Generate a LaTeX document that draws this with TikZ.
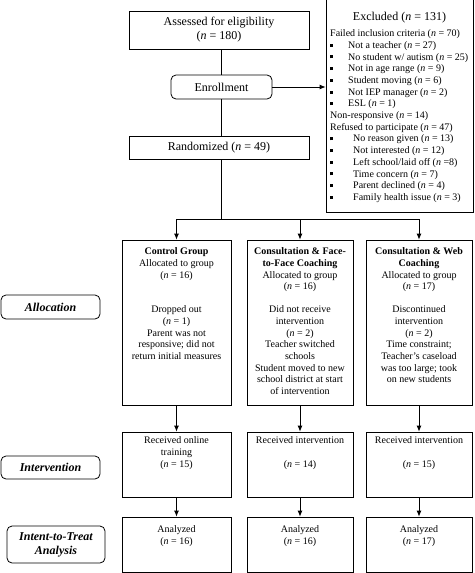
\documentclass[tikz,border=0pt]{standalone}
\usepackage{fontspec}
\setmainfont{Liberation Serif}
\usetikzlibrary{arrows.meta}
\newcommand{\exbul}{\rule[1.6pt]{3pt}{3pt}}
\newcommand{\nn}{\textit{n}}
\begin{document}
\begin{tikzpicture}[x=1pt,y=-1pt,
  box/.style={draw, line width=0.8pt, inner sep=0pt},
  rbox/.style={box, rounded corners=5pt},
  big/.style={font=\fontsize{12}{14}\selectfont, align=center},
  txt/.style={font=\fontsize{10}{11.7}\selectfont, align=center, inner sep=0pt, anchor=north},
  lab/.style={rbox, font=\fontsize{12}{14}\selectfont\bfseries\itshape, align=center},
  conn/.style={line width=0.8pt},
  arr/.style={conn, -{Latex[length=6pt,width=5pt]}}]
\useasboundingbox (0,0) rectangle (474,573);
% top boxes
\node[box, big, minimum width=180pt, minimum height=38pt] (assess) at (219,30) {Assessed for eligibility\\(\nn{} = 180)};
\node[rbox, big, minimum width=101pt, minimum height=24pt] (enroll) at (221.5,87) {Enrollment};
\node[box, big, minimum width=180pt, minimum height=23pt] (random) at (219,147.5) {Randomized (\nn{} = 49)};
\node[box, minimum width=147pt, minimum height=214pt] (excl) at (399.5,105) {};
\node[txt, font=\fontsize{12}{14}\selectfont] (exclt) at (399.5,12) {Excluded (\nn{} = 131)};
\node[txt, align=left, anchor=north west] (excll) at (330,29.5) {%
Failed inclusion criteria (\nn{} = 70)\\
\makebox[18pt][l]{\exbul}Not a teacher (\nn{} = 27)\\
\makebox[18pt][l]{\exbul}No student w/ autism (\nn{} = 25)\\
\makebox[18pt][l]{\exbul}Not in age range (\nn{} = 9)\\
\makebox[18pt][l]{\exbul}Student moving (\nn{} = 6)\\
\makebox[18pt][l]{\exbul}Not IEP manager (\nn{} = 2)\\
\makebox[18pt][l]{\exbul}ESL (\nn{} = 1)\\
Non-responsive (\nn{} = 14)\\
Refused to participate (\nn{} = 47)\\
\makebox[23pt][l]{\exbul}No reason given (\nn{} = 13)\\
\makebox[23pt][l]{\exbul}Not interested (\nn{} = 12)\\
\makebox[23pt][l]{\exbul}Left school/laid off (\nn{} =8)\\
\makebox[23pt][l]{\exbul}Time concern (\nn{} = 7)\\
\makebox[23pt][l]{\exbul}Parent declined (\nn{} = 4)\\
\makebox[23pt][l]{\exbul}Family health issue (\nn{} = 3)};
% group boxes
\node[box, minimum width=109pt, minimum height=165pt] (ctrl) at (176.5,322.5) {};
\node[box, minimum width=106pt, minimum height=165pt] (ftf) at (300,322.5) {};
\node[box, minimum width=106pt, minimum height=165pt] (web) at (419,322.5) {};
\node[txt] (ctrlt) at ([yshift=-8pt]ctrl.north) {\textbf{Control Group}\\Allocated to group\\(\nn{} = 16)};
\node[txt] (ctrld) at ([yshift=-66pt]ctrl.north) {Dropped out\\(\nn{} = 1)\\Parent was not\\responsive; did not\\return initial measures};
\node[txt] (ftft) at ([yshift=-8pt]ftf.north) {\textbf{Consultation \& Face-}\\\textbf{to-Face Coaching}\\Allocated to group\\(\nn{} = 16)};
\node[txt] (ftfd) at ([yshift=-66pt]ftf.north) {Did not receive\\intervention\\(\nn{} = 2)\\Teacher switched\\schools\\Student moved to new\\school district at start\\of intervention};
\node[txt] (webt) at ([yshift=-8pt]web.north) {\textbf{Consultation \& Web}\\\textbf{Coaching}\\Allocated to group\\(\nn{} = 17)};
\node[txt] (webd) at ([yshift=-66pt]web.north) {Discontinued\\intervention\\(\nn{} = 2)\\Time constraint;\\Teacher's caseload\\was too large; took\\on new students};
% intervention boxes
\node[box, minimum width=109pt, minimum height=65pt] (ctrli) at (176.5,464.5) {};
\node[box, minimum width=106pt, minimum height=65pt] (ftfi) at (300,464.5) {};
\node[box, minimum width=106pt, minimum height=65pt] (webi) at (419,464.5) {};
\node[txt] (ctrlit) at ([yshift=-5pt]ctrli.north) {Received online\\training\\(\nn{} = 15)};
\node[txt] (ftfit) at ([yshift=-5pt]ftfi.north) {Received intervention\\~\\(\nn{} = 14)};
\node[txt] (webit) at ([yshift=-5pt]webi.north) {Received intervention\\~\\(\nn{} = 15)};
% analyzed boxes
\node[box, minimum width=109pt, minimum height=55pt] (ctrla) at (176.5,544.5) {};
\node[box, minimum width=106pt, minimum height=55pt] (ftfa) at (300,544.5) {};
\node[box, minimum width=106pt, minimum height=55pt] (weba) at (419,544.5) {};
\node[txt] (ctrlat) at ([yshift=-9pt]ctrla.north) {Analyzed\\(\nn{} = 16)};
\node[txt] (ftfat) at ([yshift=-9pt]ftfa.north) {Analyzed\\(\nn{} = 16)};
\node[txt] (webat) at ([yshift=-9pt]weba.north) {Analyzed\\(\nn{} = 17)};
% left labels
\node[lab, minimum width=99pt, minimum height=24pt] (alloc) at (50.5,307) {Allocation};
\node[lab, minimum width=99pt, minimum height=23pt] (interv) at (50.5,467.5) {Intervention};
\node[lab, minimum width=98pt, minimum height=37pt] (itt) at (56,544.5) {Intent-to-Treat\\Analysis};
% connectors
\coordinate (split) at (221.5,219);
\draw[conn] (enroll.north) -- (enroll.north |- assess.south);
\draw[conn] (enroll.south) -- (enroll.south |- random.north);
\draw[conn] (enroll.south |- random.south) -- (split);
\draw[arr] (enroll.east) -- (enroll.east -| excl.west);
\draw[conn] (ctrl.north |- split) -- (web.north |- split);
\draw[arr] (ctrl.north |- split) -- (ctrl.north);
\draw[arr] (ftf.north |- split) -- (ftf.north);
\draw[arr] (web.north |- split) -- (web.north);
\draw[arr] (ctrl.south) -- (ctrli.north);
\draw[arr] (ftf.south) -- (ftfi.north);
\draw[arr] (web.south) -- (webi.north);
\draw[arr] (ctrli.south) -- (ctrla.north);
\draw[arr] (ftfi.south) -- (ftfa.north);
\draw[arr] (webi.south) -- (weba.north);
\end{tikzpicture}
\end{document}
